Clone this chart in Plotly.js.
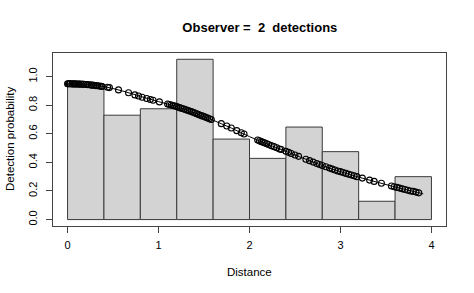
<!DOCTYPE html>
<html>
<head>
<meta charset="utf-8">
<script src="https://cdn.plot.ly/plotly-3.0.1.min.js"></script>
<style>html,body{margin:0;padding:0;background:#fff;}#chart{width:474px;height:293px;}</style>
</head>
<body>
<div id="chart"></div>
<script>
// Histogram (bin breaks and scaled heights)
const binBreaks = [0, 0.4, 0.8, 1.2, 1.6, 2.0, 2.4, 2.8, 3.2, 3.6, 4.0];
const binHeights = [0.947, 0.730, 0.775, 1.121, 0.563, 0.428, 0.647, 0.475, 0.128, 0.300];

// Fitted detection probability curve
const curveDist = [0, 0.2, 0.4, 0.6, 0.8, 1.0, 1.2, 1.4, 1.6, 1.8, 2.0, 2.2, 2.4, 2.6, 2.8, 3.0, 3.2, 3.4, 3.6, 3.8, 3.91];
const curveProb = [0.950, 0.945, 0.930, 0.900, 0.862, 0.825, 0.790, 0.745, 0.695, 0.640, 0.580, 0.527, 0.477, 0.427, 0.378, 0.335, 0.297, 0.262, 0.228, 0.197, 0.180];

// Detections: distance and fitted probability
const obsDist = [0.00,0.01,0.02,0.03,0.05,0.06,0.08,0.09,0.10,0.12,0.13,0.15,0.17,0.18,0.20,0.22,0.24,0.26,0.27,0.29,0.31,0.33,0.35,0.37,0.38,
  0.44,0.46,0.56,0.67,0.74,0.78,0.82,0.87,0.91,0.94,1.01,
  1.10,1.12,1.14,1.16,1.18,1.20,1.22,1.24,1.26,1.28,1.30,1.32,1.34,1.36,1.38,1.40,1.42,1.44,1.46,1.48,1.50,1.52,1.54,1.56,1.58,
  1.69,1.75,1.80,1.86,1.91,1.94,
  2.09,2.11,2.13,2.15,2.17,2.19,2.21,2.24,2.27,2.30,2.33,2.35,2.40,2.43,2.46,2.50,2.54,2.62,2.66,2.70,2.74,2.77,2.80,
  2.84,2.88,2.91,2.94,2.97,3.00,3.03,3.06,3.09,3.12,3.15,3.18,3.24,3.32,3.37,3.45,
  3.56,3.59,3.62,3.65,3.68,3.71,3.74,3.77,3.80,3.83,3.86];
const obsProb = [0.950,0.950,0.950,0.950,0.949,0.949,0.949,0.948,0.948,0.948,0.947,0.947,0.946,0.946,0.945,0.944,0.943,0.941,0.940,0.939,0.937,0.936,0.934,0.932,0.931,
  0.925,0.923,0.907,0.887,0.872,0.864,0.856,0.847,0.840,0.835,0.823,
  0.808,0.805,0.801,0.797,0.794,0.790,0.786,0.781,0.777,0.773,0.768,0.764,0.759,0.755,0.750,0.745,0.740,0.735,0.730,0.725,0.720,0.715,0.710,0.705,0.700,
  0.671,0.654,0.640,0.622,0.607,0.598,
  0.556,0.551,0.545,0.540,0.535,0.530,0.525,0.517,0.510,0.502,0.494,0.490,0.477,0.470,0.462,0.452,0.442,0.422,0.412,0.402,0.392,0.385,0.378,
  0.369,0.360,0.353,0.347,0.340,0.335,0.329,0.323,0.317,0.312,0.306,0.300,0.290,0.276,0.267,0.254,
  0.235,0.230,0.225,0.220,0.215,0.210,0.205,0.200,0.197,0.192,0.187];

const xTicks = [0, 1, 2, 3, 4];
const xTickText = ['0', '1', '2', '3', '4'];
const yTicks = [0, 0.2, 0.4, 0.6, 0.8, 1.0];
const yTickText = ['0.0', '0.2', '0.4', '0.6', '0.8', '1.0'];

const mids = binHeights.map((_, i) => (binBreaks[i] + binBreaks[i + 1]) / 2);
const widths = binHeights.map((_, i) => binBreaks[i + 1] - binBreaks[i]);

const FONT = 'Liberation Sans, Arial, Helvetica, sans-serif';
const traces = [
  {type: 'bar', x: mids, y: binHeights, width: widths,
   marker: {color: '#D3D3D3', line: {color: '#3a3a3a', width: 1}}, hoverinfo: 'skip'},
  {type: 'scatter', mode: 'lines', x: curveDist, y: curveProb,
   line: {color: '#000', width: 1, shape: 'spline'}, hoverinfo: 'skip'},
  {type: 'scatter', mode: 'markers', x: obsDist, y: obsProb,
   marker: {symbol: 'circle-open', size: 6, color: '#000', line: {width: 1.1, color: '#000'}}, hoverinfo: 'skip'}
];

const axisCommon = {
  showgrid: false, zeroline: false, showline: true, mirror: true,
  linecolor: '#444', linewidth: 1, ticks: 'outside', ticklen: 6, tickcolor: '#444', tickwidth: 1,
  tickfont: {family: FONT, size: 11, color: '#000'}, automargin: false
};

const layout = {
  width: 474, height: 293,
  margin: {l: 53, r: 28, t: 53, b: 67},
  paper_bgcolor: '#fff', plot_bgcolor: '#fff',
  showlegend: false, bargap: 0,
  font: {family: FONT, color: '#000'},
  title: {text: '<b>Observer =\u00a0 2\u00a0 detections</b>', font: {family: FONT, size: 13, color: '#000'},
          x: 0.5 + (53 - 28) / 2 / 474, xref: 'paper', xanchor: 'center', y: 1 - 27 / 293, yref: 'container', yanchor: 'middle'},
  xaxis: Object.assign({}, axisCommon, {
    range: [-0.16, 4.16], tickvals: xTicks, ticktext: xTickText, ticklabelstandoff: 3
  }),
  yaxis: Object.assign({}, axisCommon, {
    range: [-0.045, 1.165], tickvals: yTicks, ticktext: yTickText, tickangle: -90, ticklabelstandoff: 5
  }),
  annotations: [
    {text: 'Distance', xref: 'paper', yref: 'paper', x: 0.5, y: -(272 - 226) / 173,
     xanchor: 'center', yanchor: 'middle', showarrow: false, font: {family: FONT, size: 11.5, color: '#000'}},
    {text: 'Detection probability', xref: 'paper', yref: 'paper', x: -(53 - 9.5) / 393, y: 0.5, textangle: -90,
     xanchor: 'center', yanchor: 'middle', showarrow: false, font: {family: FONT, size: 11.5, color: '#000'}}
  ]
};

Plotly.newPlot('chart', traces, layout, {displayModeBar: false, staticPlot: true});
</script>
</body>
</html>
